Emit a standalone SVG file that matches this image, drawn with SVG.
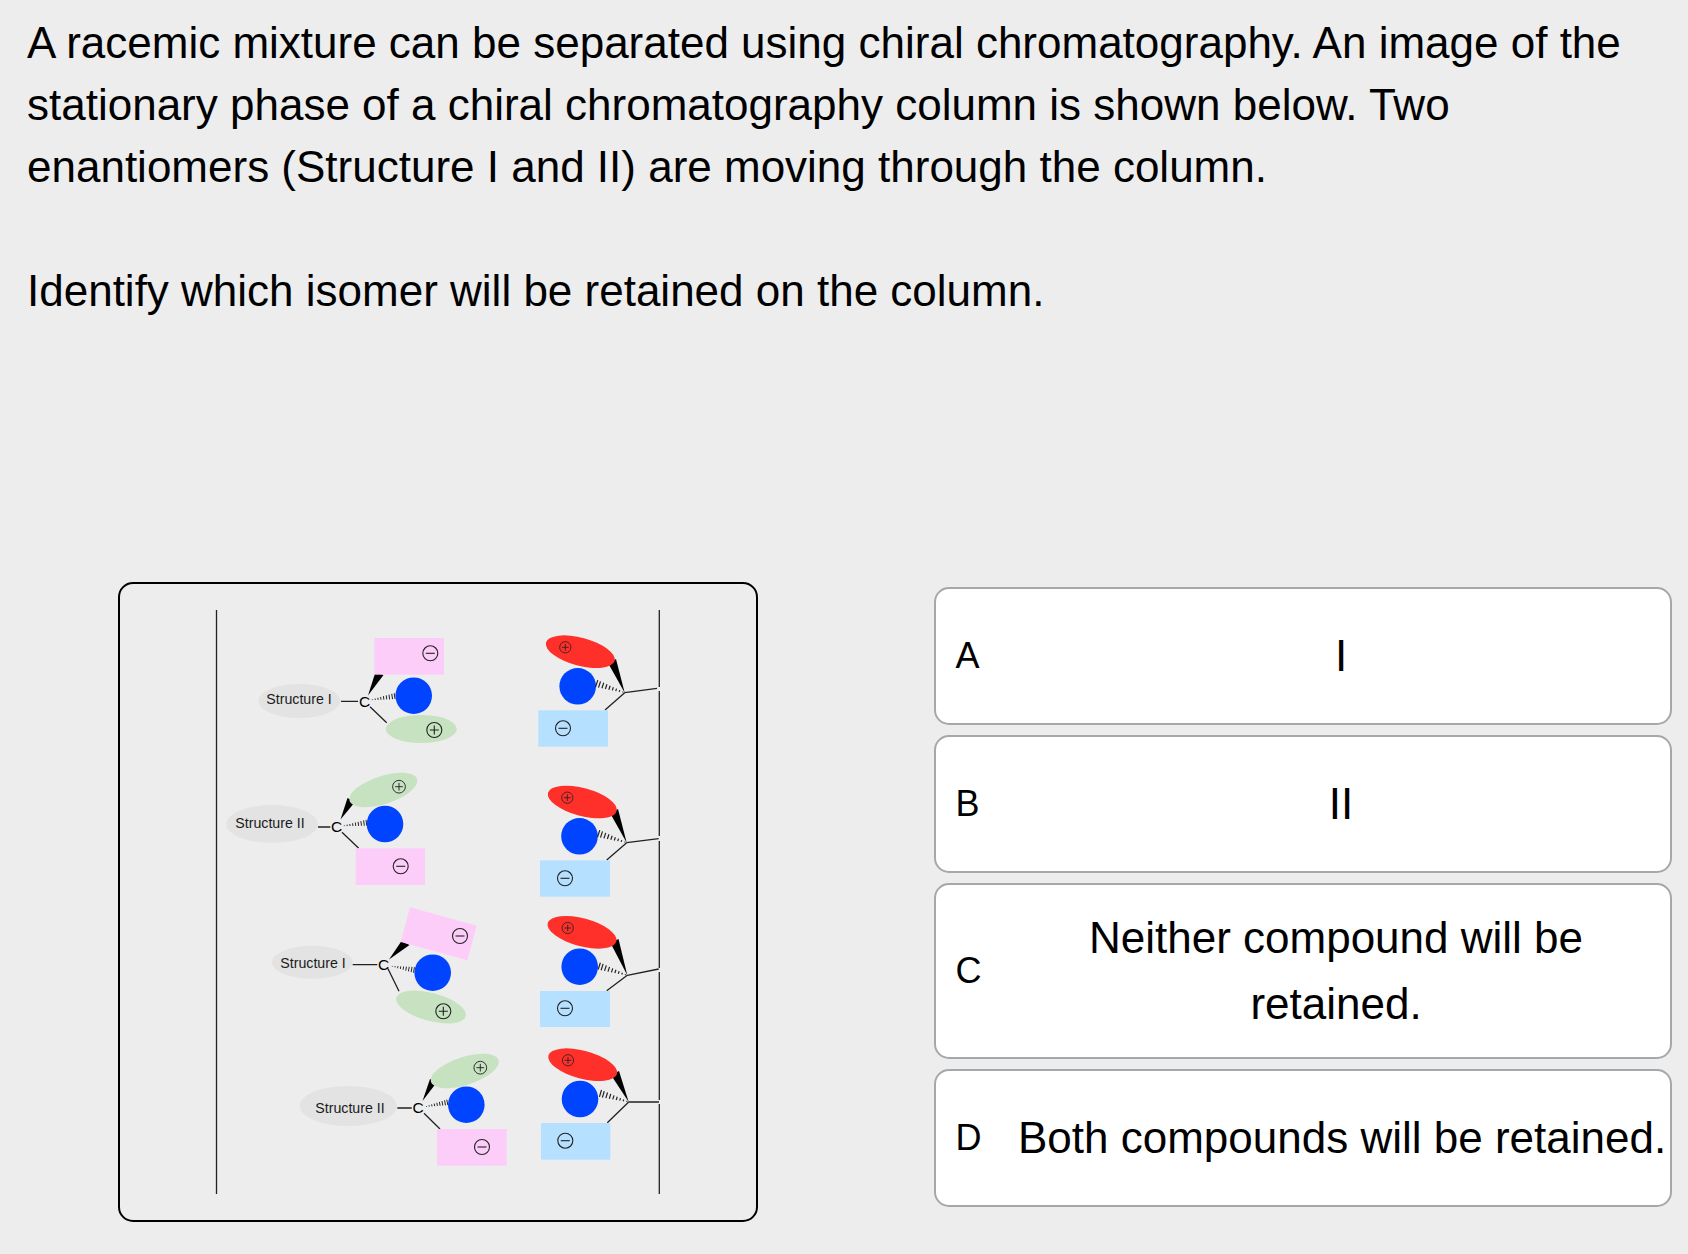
<svg xmlns="http://www.w3.org/2000/svg" xmlns:xlink="http://www.w3.org/1999/xlink" width="1688" height="1254" viewBox="0 0 1688 1254">
<style>
text{font-family:"Liberation Sans",Arial,Helvetica,sans-serif;fill:#000}
.q{font-size:44px}
.a{font-size:44px}
.l{font-size:36px}
.s{font-size:14.200px;fill:#1a1a1a;text-anchor:middle}
.c{font-size:15.500px;text-anchor:middle}
.opt{fill:#fff;stroke:#a5a8ab;stroke-width:2}
.bond{stroke:#222;stroke-width:1.300;fill:none}
.blue{fill:#0044ff}
.pink{fill:#fdcdf9}
.green{fill:#c7e2c0}
.red{fill:#ff2f2a}
.sky{fill:#b6e0ff}
.gray{fill:#e3e3e3}
.sign{fill:none;stroke:#222;stroke-width:1.100}
</style>
<defs>
<g id="minus"><circle class="sign" r="7.500"/><path class="sign" d="M-4.500 0H4.500"/></g>
<g id="plus"><circle class="sign" r="7.500"/><path class="sign" d="M-4.500 0H4.500M0 -4.500V4.500"/></g>
<path id="hash" fill="none" stroke="#222" stroke-width="1.200" d="M2 -.5V.5M5.500 -.9V.9M9 -1.300V1.300M12.500 -1.700V1.700M16 -2.100V2.100M19.500 -2.500V2.500M23 -2.900V2.900M26.500 -3.300V3.300M29.500 -3.600V3.600"/>
</defs>
<rect width="1688" height="1254" fill="#ededed"/>
<g id="question">
<text class="q" x="27" y="58">A racemic mixture can be separated using chiral chromatography. An image of the</text>
<text class="q" x="27" y="120">stationary phase of a chiral chromatography column is shown below. Two</text>
<text class="q" x="27" y="182">enantiomers (Structure I and II) are moving through the column.</text>
<text class="q" x="27" y="306">Identify which isomer will be retained on the column.</text>
</g>
<g id="frame">
<rect x="119" y="583" width="638" height="638" rx="14" fill="#ededed" stroke="#000" stroke-width="2"/>
<path fill="none" stroke="#222" stroke-width="1.300" d="M216.500 610V1194M659.300 610V687M659.300 691V836M659.300 841V968M659.300 972V1100M659.300 1104V1194"/>
</g>
<g id="structure-1a">
<ellipse class="gray" cx="299.300" cy="701" rx="41" ry="17"/>
<text class="s" x="299" y="704">Structure I</text>
<path class="bond" d="M341 701.300H358M370 706.700L386.700 722.700"/>
<text class="c" x="364.700" y="706.700">C</text>
<path d="M368 695.500L375.500 672L383.500 675Z"/>
<use href="#hash" transform="translate(370.700 700) rotate(-9.300) scale(.82)"/>
<rect class="pink" x="374.300" y="638" width="69.700" height="36.700"/>
<use href="#minus" x="430.300" y="653.300"/>
<circle class="blue" cx="413.700" cy="695.700" r="18.300"/>
<ellipse class="green" cx="421.300" cy="729" rx="35.500" ry="14"/>
<use href="#plus" x="434.300" y="730"/>
</g>
<g id="structure-2a">
<ellipse class="gray" cx="272" cy="824" rx="46" ry="19"/>
<text class="s" x="270" y="828">Structure II</text>
<path class="bond" d="M318 827H330.300M342 832.300L358.700 848.300"/>
<text class="c" x="336.700" y="832">C</text>
<path d="M340.500 819.500L347.500 798L355 802Z"/>
<use href="#hash" transform="translate(342.700 826) rotate(-7.800) scale(.81)"/>
<ellipse class="green" cx="383.300" cy="790" rx="35.500" ry="14" transform="rotate(-18 383.300 790)"/>
<use href="#plus" transform="translate(399 786.700) scale(.85)"/>
<circle class="blue" cx="385" cy="824" r="18.300"/>
<rect class="pink" x="355.700" y="848.300" width="69.300" height="36.700"/>
<use href="#minus" x="400.700" y="866.300"/>
</g>
<g id="structure-1b">
<ellipse class="gray" cx="312.300" cy="962.300" rx="40.500" ry="16.500"/>
<text class="s" x="313" y="968">Structure I</text>
<path class="bond" d="M352.700 964.700H377.300M388 968.700L399 991.300"/>
<text class="c" x="383.700" y="970.300">C</text>
<path d="M389 959.500L401.500 941L409.500 945Z"/>
<use href="#hash" transform="translate(390.700 966) rotate(9.600) scale(.8)"/>
<polygon class="pink" points="410,907.300 476.700,925.700 467.300,960.300 400.700,942"/>
<use href="#minus" x="460" y="936"/>
<circle class="blue" cx="432.700" cy="972.700" r="18.300"/>
<ellipse class="green" cx="431" cy="1007" rx="36" ry="14" transform="rotate(15 431 1007)"/>
<use href="#plus" x="443.300" y="1011.300"/>
</g>
<g id="structure-2b">
<ellipse class="gray" cx="348.300" cy="1106" rx="48.500" ry="20"/>
<text class="s" x="350" y="1112.700">Structure II</text>
<path class="bond" d="M397.300 1108H411.700M424 1113.300L440 1129"/>
<text class="c" x="418" y="1112.700">C</text>
<path d="M422.500 1101L430 1079L437 1082Z"/>
<use href="#hash" transform="translate(425 1106.700) rotate(-11) scale(.77)"/>
<ellipse class="green" cx="464.700" cy="1071" rx="35.500" ry="14" transform="rotate(-18 464.700 1071)"/>
<use href="#plus" transform="translate(480.300 1067.700) scale(.85)"/>
<circle class="blue" cx="466.300" cy="1104.700" r="18.300"/>
<rect class="pink" x="437" y="1129" width="69.700" height="36.700"/>
<use href="#minus" x="482" y="1147"/>
</g>
<g id="selector-1">
<path d="M624.700 692.700L608 663L616 659Z"/>
<ellipse class="red" cx="580.300" cy="651.700" rx="35.500" ry="14" transform="rotate(15 580.300 651.700)"/>
<use href="#plus" transform="translate(565.300 647.300) scale(.75)"/>
<circle class="blue" cx="577.700" cy="686.300" r="18.300"/>
<use href="#hash" transform="translate(624.700 692.700) rotate(198.100)"/>
<path class="bond" d="M624.700 692.700L657 688.300M624.700 692.700L605 710"/>
<rect class="sky" x="538.300" y="710.300" width="69.700" height="36.400"/>
<use href="#minus" x="563" y="728.300"/>
</g>
<g id="selector-2">
<path d="M626.700 842.700L610 813L618 809Z"/>
<ellipse class="red" cx="582.300" cy="802" rx="35.500" ry="14" transform="rotate(15 582.300 802)"/>
<use href="#plus" transform="translate(567.300 797.700) scale(.75)"/>
<circle class="blue" cx="579.500" cy="836.300" r="18.300"/>
<use href="#hash" transform="translate(626.700 842.700) rotate(198)"/>
<path class="bond" d="M626.700 842.700L658.700 838.700M626.700 842.700L606.700 860"/>
<rect class="sky" x="540" y="860.300" width="70" height="36.400"/>
<use href="#minus" x="565" y="878.300"/>
</g>
<g id="selector-3">
<path d="M627.300 975.300L610.500 943L618.500 939Z"/>
<ellipse class="red" cx="582" cy="932.300" rx="35.500" ry="14" transform="rotate(15 582 932.300)"/>
<use href="#plus" transform="translate(567.700 928) scale(.75)"/>
<circle class="blue" cx="579.700" cy="966.700" r="18.300"/>
<use href="#hash" transform="translate(627.300 975.300) rotate(198.100)"/>
<path class="bond" d="M627.300 975.300L658.700 969M627.300 975.300L606.700 990.700"/>
<rect class="sky" x="540" y="991" width="70" height="36"/>
<use href="#minus" x="565" y="1008.300"/>
</g>
<g id="selector-4">
<path d="M628.700 1102L611 1075L619 1071Z"/>
<ellipse class="red" cx="582.700" cy="1064.700" rx="35.500" ry="14" transform="rotate(15 582.700 1064.700)"/>
<use href="#plus" transform="translate(568 1060.300) scale(.75)"/>
<circle class="blue" cx="580" cy="1099" r="18.300"/>
<use href="#hash" transform="translate(628.700 1102) rotate(196.900)"/>
<path class="bond" d="M628.700 1102H659M628.700 1102L607.300 1122.700"/>
<rect class="sky" x="541" y="1123" width="69.300" height="36.700"/>
<use href="#minus" x="565.300" y="1140.700"/>
</g>
<g id="option-a">
<rect class="opt" x="935" y="588" width="736" height="136" rx="14"/>
<text class="l" x="955.500" y="668">A</text>
<text class="a" x="1341" y="671" text-anchor="middle">I</text>
</g>
<g id="option-b">
<rect class="opt" x="935" y="736" width="736" height="136" rx="14"/>
<text class="l" x="955.500" y="816">B</text>
<text class="a" x="1341" y="819" text-anchor="middle">II</text>
</g>
<g id="option-c">
<rect class="opt" x="935" y="884" width="736" height="174" rx="14"/>
<text class="l" x="955.500" y="983">C</text>
<text class="a" x="1336" y="953" text-anchor="middle">Neither compound will be</text>
<text class="a" x="1336" y="1019" text-anchor="middle">retained.</text>
</g>
<g id="option-d">
<rect class="opt" x="935" y="1070" width="736" height="136" rx="14"/>
<text class="l" x="955.500" y="1150">D</text>
<text class="a" x="1018" y="1153">Both compounds will be retained.</text>
</g>
</svg>
